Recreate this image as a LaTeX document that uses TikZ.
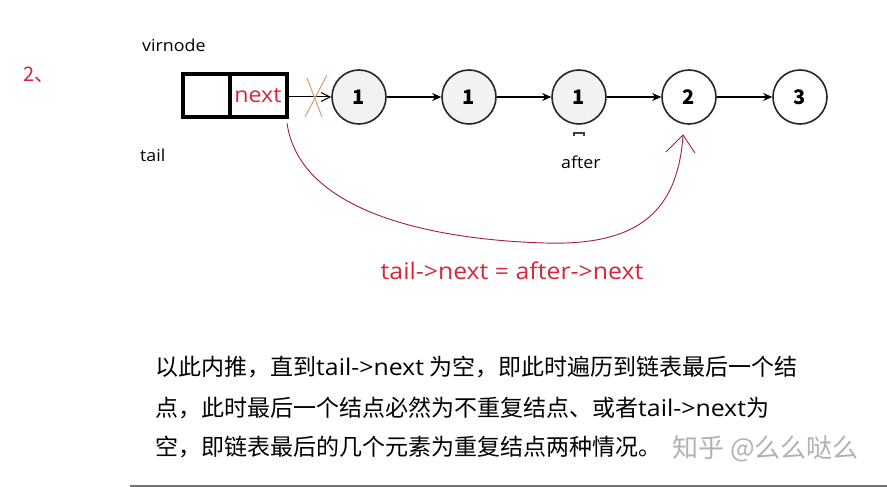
\documentclass[tikz,border=0pt]{standalone}
\usepackage{fontspec}
\setmainfont{Noto Sans CJK SC}
\newfontfamily\latfont[FakeStretch=1.08]{Open Sans}
\newcommand{\lat}[1]{{\latfont #1}}
\usetikzlibrary{arrows.meta}
\definecolor{redtxt}{HTML}{D9273A}
\definecolor{curvered}{HTML}{A3203A}
\definecolor{crossc}{HTML}{D9A066}
\definecolor{nodefill}{HTML}{F2F2F2}
\begin{document}
\begin{tikzpicture}[x=1pt,y=-1pt,
  lnode/.style={circle,draw=black!85,line width=1.6pt,minimum size=54pt,inner sep=0pt,font=\fontsize{20}{23}\selectfont\bfseries},
  lbl/.style={inner sep=0pt,font=\latfont\fontsize{16.5}{19}\selectfont},
  link/.style={line width=1.5pt,-{Stealth[length=9pt,width=8pt]}},
  para/.style={anchor=west,inner sep=0pt,font=\fontsize{23}{27}\selectfont}]
\useasboundingbox (0,0) rectangle (887,487);
\fill[white] (0,0) rectangle (887,487);
% label 2、
\node[inner sep=0pt,text=redtxt,font=\fontsize{20}{24}\selectfont] (num) at (39,75) {2、};
% virnode box
\node[lbl,anchor=west] (virnode) at (142,45) {virnode};
\node[lbl,anchor=west] (tail) at (140,155) {tail};
\draw[line width=4pt] (183,74) rectangle (287,117);
\draw[line width=3.5pt] (230,74) -- (230,117);
\coordinate (boxout) at (289,97);
\node[inner sep=0pt,text=redtxt,font=\latfont\fontsize{21.5}{25}\selectfont] (nexttxt) at (258,96) {next};
% nodes
\node[lnode,fill=nodefill] (n1) at (359,97) {1};
\node[lnode,fill=nodefill] (n2) at (469,97) {1};
\node[lnode,fill=nodefill] (n3) at (579,97) {1};
\node[lnode,fill=white] (n4) at (689,97) {2};
\node[lnode,fill=white] (n5) at (800,97) {3};
\draw[line width=1pt,-{Straight Barb[length=9pt,width=9pt]}] (boxout) -- (n1.west);
\draw[link] (n1) -- (n2);
\draw[link] (n2) -- (n3);
\draw[link] (n3) -- (n4);
\draw[link] (n4) -- (n5);
% cross
\draw[crossc,line width=1pt] (307,78) -- (322,117);
\draw[crossc,line width=1pt] (327,75) -- (305,117);
% small mark and after
\draw[black!75,line width=1.5pt] (574,136) -- (574,133) -- (584,133) -- (584,136);
\node[lbl] (after) at (581,162) {after};
% red curve
\coordinate (cstart) at (287,123);
\coordinate (cend) at (683,135);
\draw[curvered,line width=0.9pt] (cstart) .. controls (300,215) and (440,240) .. (545,243)
  .. controls (640,246) and (678,210) .. (cend);
\draw[curvered,line width=0.9pt] (666,152) -- (cend) -- (695,153);
\node[inner sep=0pt,text=redtxt,font=\latfont\fontsize{23}{27}\selectfont] (eq) at (512,271) {tail->next = after->next};
% paragraph
\node[para] (p1) at (155,367) {以此内推，直到\lat{tail->next} 为空，即此时遍历到链表最后一个结};
\node[para] (p2) at (155,408) {点，此时最后一个结点必然为不重复结点、或者\lat{tail->next}为};
\node[para] (p3) at (155,447) {空，即链表最后的几个元素为重复结点两种情况。};
% watermark
\node[anchor=west,inner sep=0pt,text=black!30,font=\fontsize{26}{30}\selectfont] (wm) at (672,449) {知乎 @么么哒么};
% bottom line
\draw[black!55,line width=2pt] (130,486) -- (887,486);
\end{tikzpicture}
\end{document}
